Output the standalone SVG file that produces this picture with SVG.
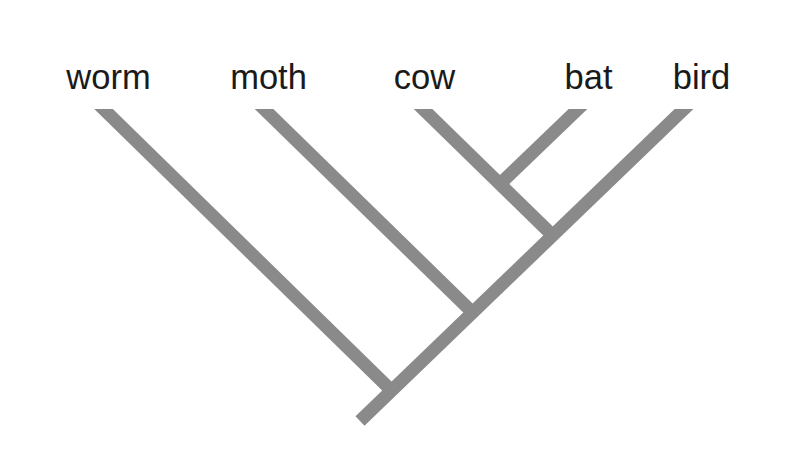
<svg xmlns="http://www.w3.org/2000/svg" width="807" height="456" viewBox="0 0 807 456">
  <style>
    .lbl { font-family: "Liberation Sans", Arial, sans-serif; font-size: 34.5px; fill: #1a1a1a; text-anchor: middle; }
    .br { stroke: #8a8a8a; stroke-width: 13; stroke-linecap: butt; fill: none; }
  </style>
  <defs>
    <clipPath id="topcut">
      <rect x="0" y="109" width="807" height="347"/>
    </clipPath>
  </defs>
  <rect width="807" height="456" fill="#ffffff"/>
  <g id="connectors" clip-path="url(#topcut)">
    <line class="br" x1="93.3" y1="99" x2="391.6" y2="390.7"/>
    <line class="br" x1="253.8" y1="99" x2="472.7" y2="312.6"/>
    <line class="br" x1="412.8" y1="99" x2="552.7" y2="235.5"/>
    <line class="br" x1="588.4" y1="99" x2="500" y2="184"/>
    <line class="br" x1="694.4" y1="99" x2="360" y2="421"/>
  </g>
  <g id="worm"><text class="lbl" x="108.5" y="89">worm</text></g>
  <g id="moth"><text class="lbl" x="268.5" y="89">moth</text></g>
  <g id="cow"><text class="lbl" x="424.5" y="89">cow</text></g>
  <g id="bat"><text class="lbl" x="588.5" y="89">bat</text></g>
  <g id="bird"><text class="lbl" x="701.5" y="89">bird</text></g>
</svg>
